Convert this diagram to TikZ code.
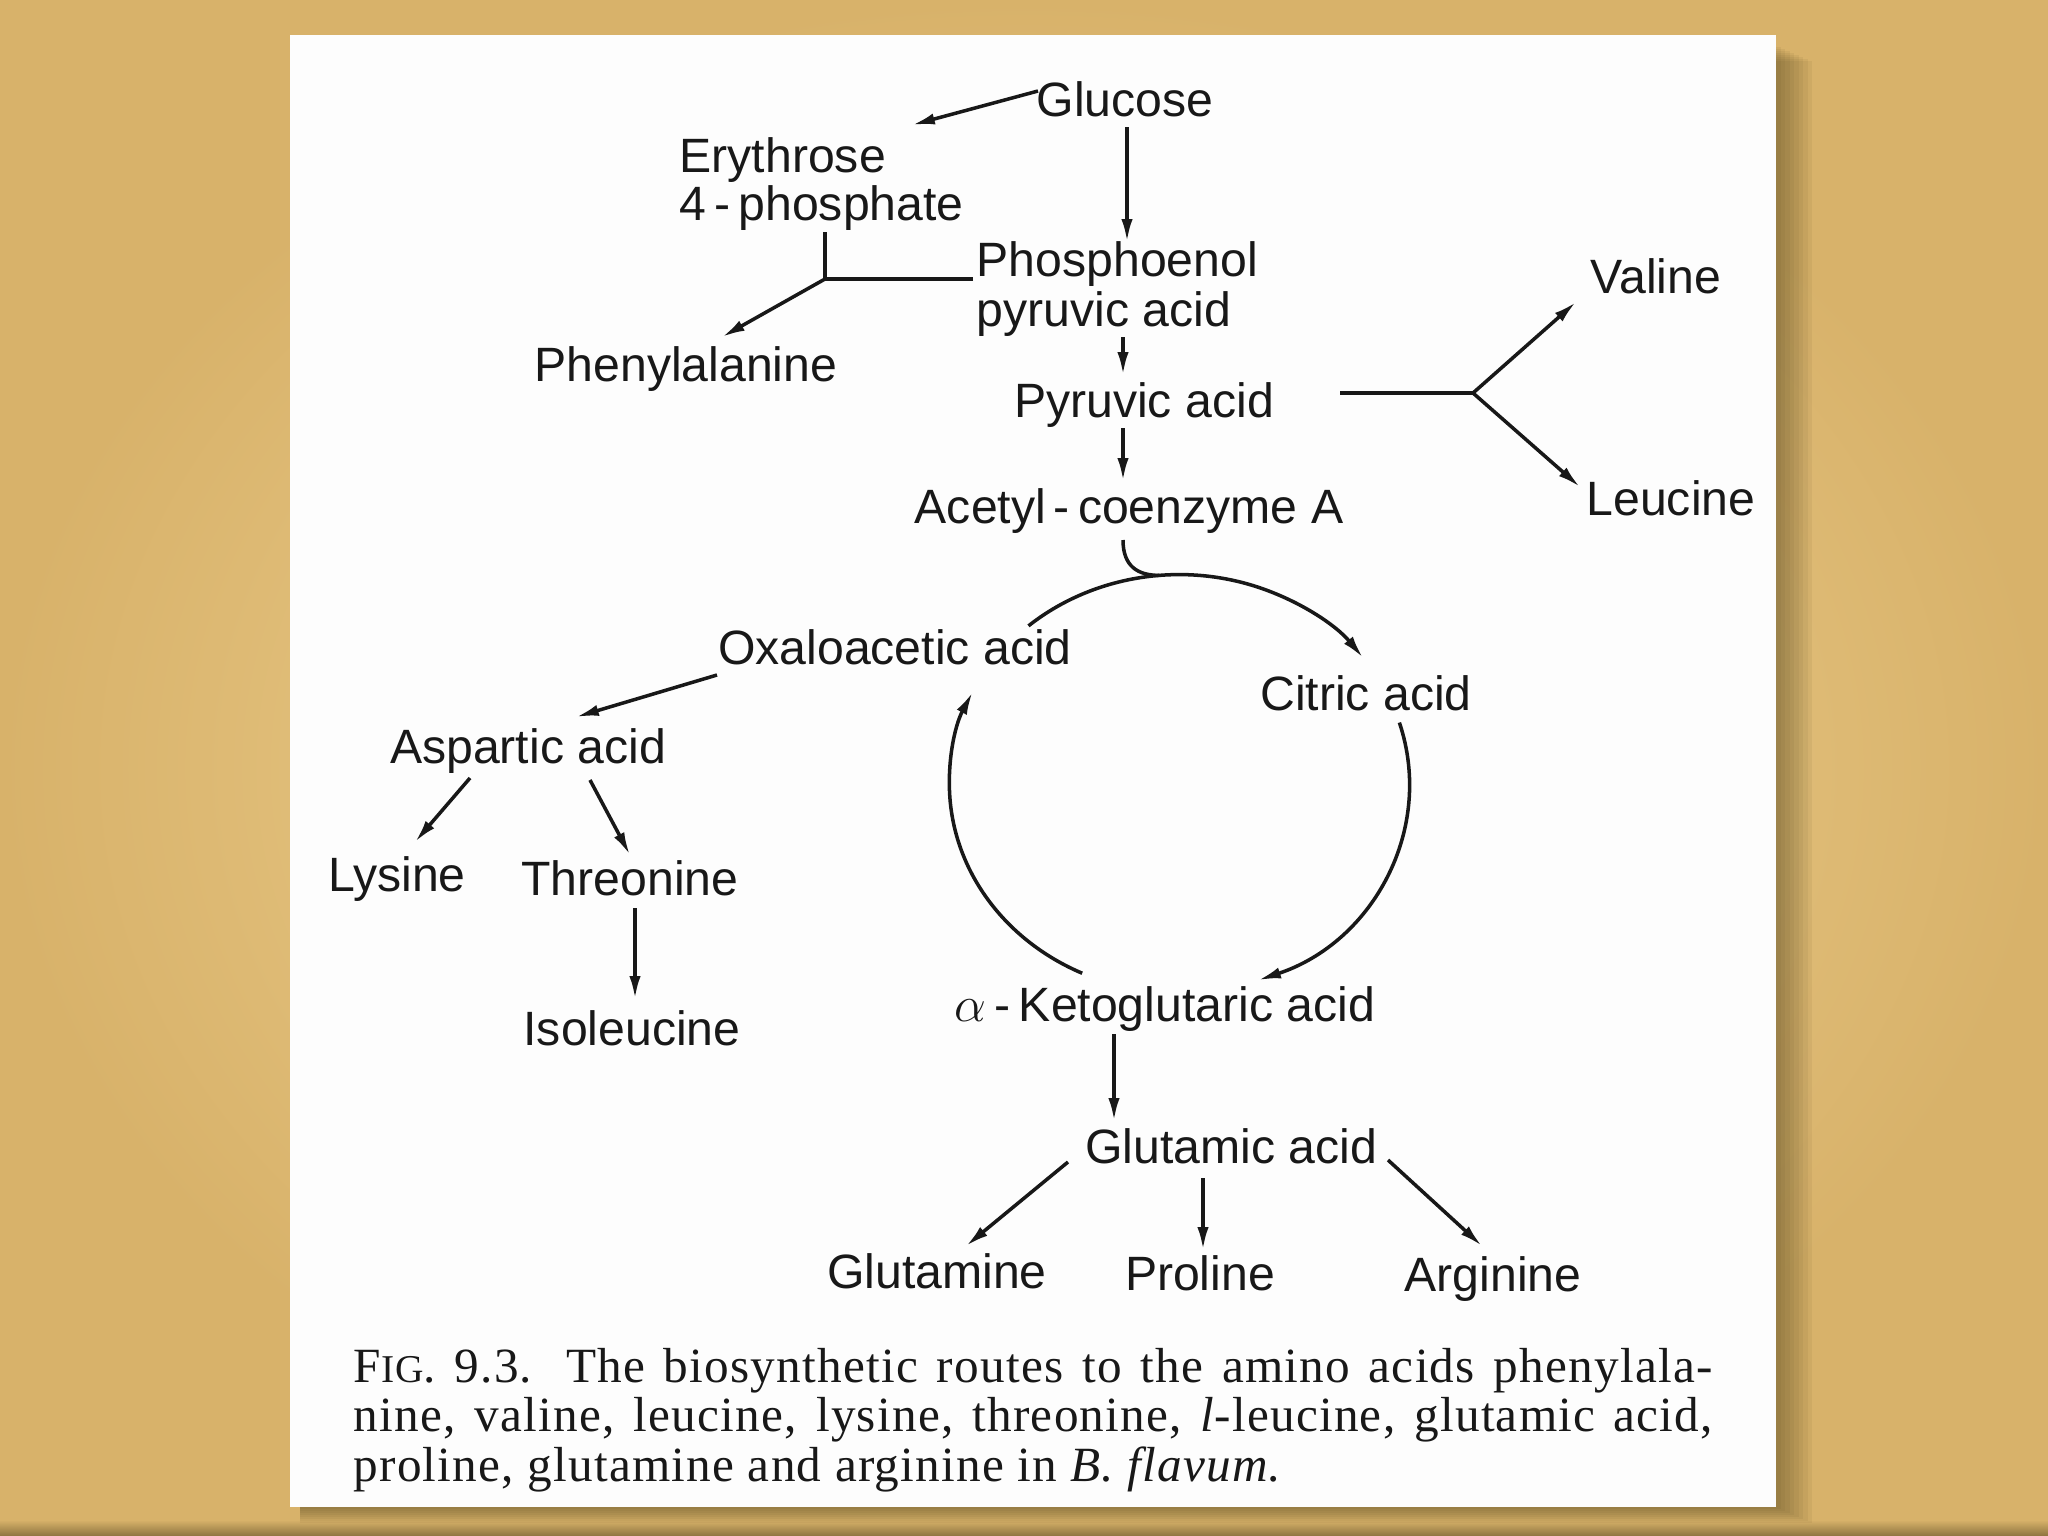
\documentclass[tikz,border=0pt]{standalone}
\usepackage{fontspec}
\setmainfont{Liberation Serif}
\newfontfamily\labfont{Liberation Sans}
\newfontfamily\capfont[LetterSpace=2.5]{Liberation Serif}
\usetikzlibrary{arrows.meta,calc}
\definecolor{parchlight}{RGB}{242,214,152}
\definecolor{parchdark}{RGB}{216,178,106}
\definecolor{ink}{RGB}{24,24,24}
\definecolor{shadowc}{RGB}{80,66,28}
\definecolor{paperc}{RGB}{253,253,253}
\begin{document}
\begin{tikzpicture}[x=0.01cm,y=-0.01cm,
  lab/.style={font=\labfont\fontsize{13.7pt}{14pt}\selectfont, inner sep=0pt, text=ink},
  arr/.style={draw=ink, line width=1pt, -{Latex[length=6.5pt,width=3.2pt]}},
  ln/.style={draw=ink, line width=1pt}]
% background
\useasboundingbox (0,0) rectangle (2048,1536);
\shade[inner color=parchlight, outer color=parchdark] (0,0) rectangle (2048,1536);
\shade[top color=parchdark, bottom color=shadowc!55!parchdark] (0,1520) rectangle (2048,1536);
% shadow of paper
\foreach \i in {1,...,8}
  \fill[shadowc, opacity=0.07] (300,45+2*\i) rectangle (1776+4.5*\i,1507+2*\i);
% paper
\fill[paperc] (290,35) rectangle (1776,1507);

% labels
\node[lab, anchor=base] (glucose) at (1125,116) {Glucose};
\node[lab, anchor=base west] (ery) at (679,172) {Erythrose};
\node[lab, anchor=base west] (ery2) at (679,220) {4\,-\,phosphate};
\node[lab, anchor=base west] (pep) at (976,276) {Phosphoenol};
\node[lab, anchor=base west] (pep2) at (976,326) {pyruvic acid};
\node[lab, anchor=base] (phe) at (686,381) {Phenylalanine};
\node[lab, anchor=base] (pyr) at (1144,417) {Pyruvic acid};
\node[lab, anchor=base] (acoa) at (1129,523) {Acetyl\,-\,coenzyme A};
\node[lab, anchor=base] (val) at (1656,293) {Valine};
\node[lab, anchor=base] (leu) at (1671,515) {Leucine};
\node[lab, anchor=base] (oxa) at (895,664) {Oxaloacetic acid};
\node[lab, anchor=base] (cit) at (1366,710) {Citric acid};
\node[lab, anchor=base] (asp) at (528,763) {Aspartic acid};
\node[lab, anchor=base] (lys) at (397,891) {Lysine};
\node[lab, anchor=base] (thr) at (630,895) {Threonine};
\node[lab, anchor=base] (ile) at (632,1045) {Isoleucine};
\node[lab, anchor=base] (akg) at (1165,1021) {$\alpha$\,-\,Ketoglutaric acid};
\node[lab, anchor=base] (glu) at (1231,1163) {Glutamic acid};
\node[lab, anchor=base] (gln) at (937,1288) {Glutamine};
\node[lab, anchor=base] (pro) at (1200,1290) {Proline};
\node[lab, anchor=base] (arg) at (1493,1291) {Arginine};

% junctions and cycle centre
\coordinate (j1) at (825,279);
\coordinate (j2) at (1473,393);
\coordinate (tca) at (1179.4,783.7);

% connectors
\draw[arr] ([shift={(-87,-25)}]glucose.base) -- ([shift={(233,-47)}]ery.base west);
\draw[arr] ([shift={(2,11)}]glucose.base) -- ([shift={(151,-34)}]pep.base west);
\draw[ln] ([shift={(146,12)}]ery2.base west) -- (j1);
\draw[ln] ([shift={(-3,3)}]pep.base west) -- (j1);
\draw[arr] (j1) -- ([shift={(36,-44)}]phe.base);
\draw[arr] ([shift={(147,11)}]pep2.base west) -- ([shift={(-21,-42)}]pyr.base);
\draw[arr] ([shift={(-21,11)}]pyr.base) -- ([shift={(-6,-42)}]acoa.base);
\draw[ln] ([shift={(196,-24)}]pyr.base) -- (j2);
\draw[arr] (j2) -- ([shift={(-80,9)}]val.base);
\draw[arr] (j2) -- ([shift={(-91,-28)}]leu.base);
% acetyl-CoA into the cycle
\draw[ln] ([shift={(-6,17)}]acoa.base) .. controls +(0,26) and +(-22,0) .. ($(tca)+(95:2.299cm and 2.09cm)$);
% the cycle
\draw[arr] ($(tca)+(131:2.299cm and 2.09cm)$) arc[start angle=131, end angle=37, x radius=2.299cm, y radius=2.09cm];
\draw[arr] ($(tca)+(17:2.299cm and 2.09cm)$) arc[start angle=17, end angle=-70, x radius=2.299cm, y radius=2.09cm];
\draw[arr] ($(tca)+(245:2.299cm and 2.09cm)$) arc[start angle=245, end angle=154, x radius=2.299cm, y radius=2.09cm];
% branches
\draw[arr] ([shift={(-178,11)}]oxa.base) -- ([shift={(48,-46)}]asp.base);
\draw[arr] ([shift={(-58,15)}]asp.base) -- ([shift={(18,-49)}]lys.base);
\draw[arr] ([shift={(62,17)}]asp.base) -- ([shift={(0,-40)}]thr.base);
\draw[arr] ([shift={(5,13)}]thr.base) -- ([shift={(3,-46)}]ile.base);
\draw[arr] ([shift={(-51,13)}]akg.base) -- ([shift={(-117,-42)}]glu.base);
\draw[arr] ([shift={(-163,-1)}]glu.base) -- ([shift={(29,-42)}]gln.base);
\draw[arr] ([shift={(-28,15)}]glu.base) -- ([shift={(3,-40)}]pro.base);
\draw[arr] ([shift={(157,-3)}]glu.base) -- ([shift={(-11,-45)}]arg.base);

% caption
\node[anchor=base west, inner sep=0pt, text=ink, font=\capfont\fontsize{14pt}{17pt}\selectfont] (cap) at (353,1382)
 {\vtop{\hsize=13.58cm\baselineskip=0.496cm
  \hbox to\hsize{F{\fontsize{11.2pt}{12pt}\selectfont IG}. 9.3. The biosynthetic routes to the amino acids phenylala-}
  \hbox to\hsize{nine, valine, leucine, lysine, threonine, {\itshape l}-leucine, glutamic acid,}
  \hbox{proline, glutamine and arginine in \textit{B.\ flavum}.}}};
\end{tikzpicture}
\end{document}
